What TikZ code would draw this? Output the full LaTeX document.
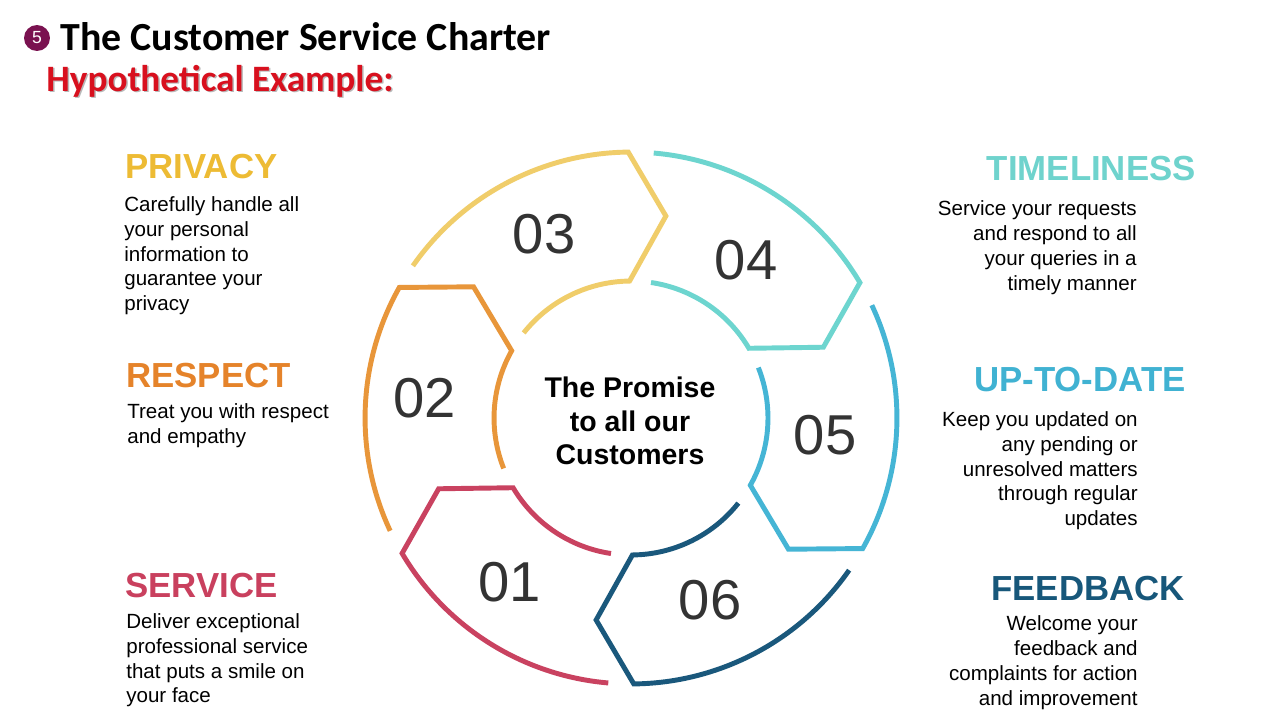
\documentclass[tikz,border=0pt]{standalone}
\usepackage{fontspec}
\setmainfont{Liberation Sans}
\newfontfamily\titlefont{Carlito}
\definecolor{cA}{HTML}{C94260}
\definecolor{cB}{HTML}{E8963A}
\definecolor{cC}{HTML}{F0CD6A}
\definecolor{cD}{HTML}{6DD5CF}
\definecolor{cE}{HTML}{45B5D5}
\definecolor{cF}{HTML}{1A587C}
\definecolor{hA}{HTML}{C9405E}
\definecolor{hB}{HTML}{E5832A}
\definecolor{hC}{HTML}{EDBB34}
\definecolor{hD}{HTML}{6FD3CD}
\definecolor{hE}{HTML}{40B2D2}
\definecolor{hF}{HTML}{17577A}
\definecolor{numgray}{HTML}{333333}
\definecolor{badge}{HTML}{7A1250}
\definecolor{titlered}{HTML}{D8101E}
\begin{document}
\begin{tikzpicture}[x=0.02cm,y=-0.02cm,
  seg/.style={line width=2.8pt},
  num/.style={inner sep=0pt,text=numgray,font=\fontsize{32}{36}\selectfont},
  head/.style={inner sep=0pt,font=\fontsize{19.8}{22}\selectfont\bfseries},
  body/.style={inner sep=0pt,font=\fontsize{11.7}{14.17}\selectfont},
  bodyL/.style={body,align=left,anchor=north west},
  bodyR/.style={body,align=right,anchor=north east}]
\useasboundingbox[fill=white] (0,0) rectangle (1280,720);
% cycle segments
\begin{scope}[shift={(631,418)}]
\foreach \e/\c in {210.6/cA,150.6/cB,90.6/cC,30.6/cD,-29.4/cE,-89.4/cF}{
  \draw[seg,\c] (\e+54.5:5.32cm) arc[start angle=\e+54.5, end angle=\e, radius=5.32cm]
    -- (\e-10.4:4.10cm) -- (\e:2.74cm)
    arc[start angle=\e, end angle=\e+51, radius=2.74cm];
}
\end{scope}
% numbers
\node[num] (n01) at (510,582) {01};
\node[num] (n02) at (425,398) {02};
\node[num] (n03) at (544,234) {03};
\node[num] (n04) at (746,260) {04};
\node[num] (n05) at (825,435) {05};
\node[num] (n06) at (710,600) {06};
% centre text
\node[inner sep=0pt,anchor=north,align=center,font=\fontsize{16.2}{19.3}\selectfont\bfseries] (promise) at (630,373)
  {\strut The Promise\\to all our\\Customers};
% title
\node[circle,fill=badge,minimum size=0.52cm,inner sep=0pt,text=white,font=\fontsize{10}{12}\selectfont] (badge) at (37,38) {5};
\node[anchor=base west,inner sep=0pt,font=\titlefont\fontsize{22.7}{26}\selectfont\bfseries] (title) at (60,50) {The Customer Service Charter};
\node[anchor=base west,inner sep=0pt,text=black!55,opacity=0.5,font=\titlefont\fontsize{21.2}{24}\selectfont\bfseries] (subshadow) at (47.5,92.5) {Hypothetical Example:};
\node[anchor=base west,inner sep=0pt,text=titlered,font=\titlefont\fontsize{21.2}{24}\selectfont\bfseries] (sub) at (46,91) {Hypothetical Example:};
% left blocks
\node[head,text=hC,anchor=base west] (privh) at (125,178) {PRIVACY};
\node[bodyL] (privb) at (124,193.5) {\strut Carefully handle all\\your personal\\information to\\guarantee your\\privacy};
\node[head,text=hB,anchor=base west] (resph) at (126,387) {RESPECT};
\node[bodyL] (respb) at (127,400.5) {\strut Treat you with respect\\and empathy};
\node[head,text=hA,anchor=base west] (servh) at (125,597) {SERVICE};
\node[bodyL] (servb) at (126,610.5) {\strut Deliver exceptional\\professional service\\that puts a smile on\\your face};
% right blocks
\node[head,text=hD,anchor=base east] (timeh) at (1196,180) {TIMELINESS};
\node[bodyR] (timeb) at (1137,198) {\strut Service your requests\\and respond to all\\your queries in a\\timely manner};
\node[head,text=hE,anchor=base east] (updh) at (1186,391) {UP-TO-DATE};
\node[bodyR] (updb) at (1138,408.5) {\strut Keep you updated on\\any pending or\\unresolved matters\\through regular\\updates};
\node[head,text=hF,anchor=base east] (feedh) at (1185,600) {FEEDBACK};
\node[bodyR] (feedb) at (1138,613) {\strut Welcome your\\feedback and\\complaints for action\\and improvement};
\end{tikzpicture}
\end{document}
